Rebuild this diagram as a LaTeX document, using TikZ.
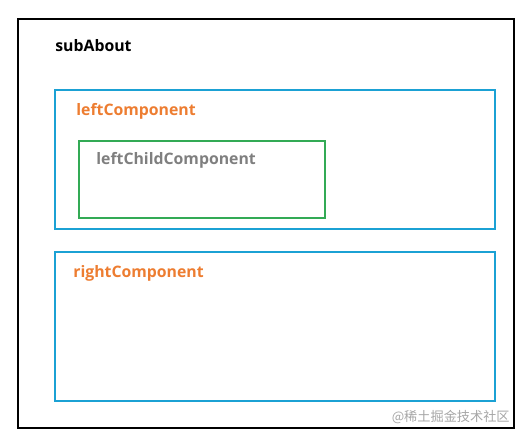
\documentclass[tikz,border=0pt]{standalone}
\usepackage{fontspec}
\setmainfont{Open Sans}
\newfontfamily\cjkfont{Noto Sans CJK SC}
\definecolor{boxblue}{HTML}{1BA1D4}
\definecolor{boxgreen}{HTML}{33AA55}
\definecolor{lblorange}{HTML}{ED7D31}
\definecolor{lblgrey}{HTML}{7F7F7F}
\tikzset{
  lbl/.style={anchor=base west,inner sep=0,font=\fontsize{9}{11}\selectfont\bfseries},
}
\begin{document}
\begin{tikzpicture}[x=0.02cm,y=-0.02cm]
    \useasboundingbox (0,0) rectangle (524,438);
    \coordinate (S1) at (18,19);
    \coordinate (S2) at (514,428);
    \coordinate (L1) at (55,90);
    \coordinate (L2) at (495,229);
    \coordinate (C1) at (79,141);
    \coordinate (C2) at (325,218);
    \coordinate (R1) at (55,252);
    \coordinate (R2) at (495,401);
    \draw[line width=1.1pt] (S1) rectangle (S2);
    \draw[boxblue,line width=1.1pt] (L1) rectangle (L2) (R1) rectangle (R2);
    \draw[boxgreen,line width=0.9pt] (C1) rectangle (C2);
    \node[lbl] (sub) at (55,52) {subAbout};
    \node[lbl,lblorange] (left) at (76,116) {leftComponent};
    \node[lbl,lblgrey] (child) at (96,165) {leftChildComponent};
    \node[lbl,lblorange] (right) at (73,278) {rightComponent};
    \node[anchor=base east,inner sep=0,text=black!35,font=\cjkfont\fontsize{7.5}{9}\selectfont] (mark) at (510,422) {@稀土掘金技术社区};
\end{tikzpicture}
\end{document}
